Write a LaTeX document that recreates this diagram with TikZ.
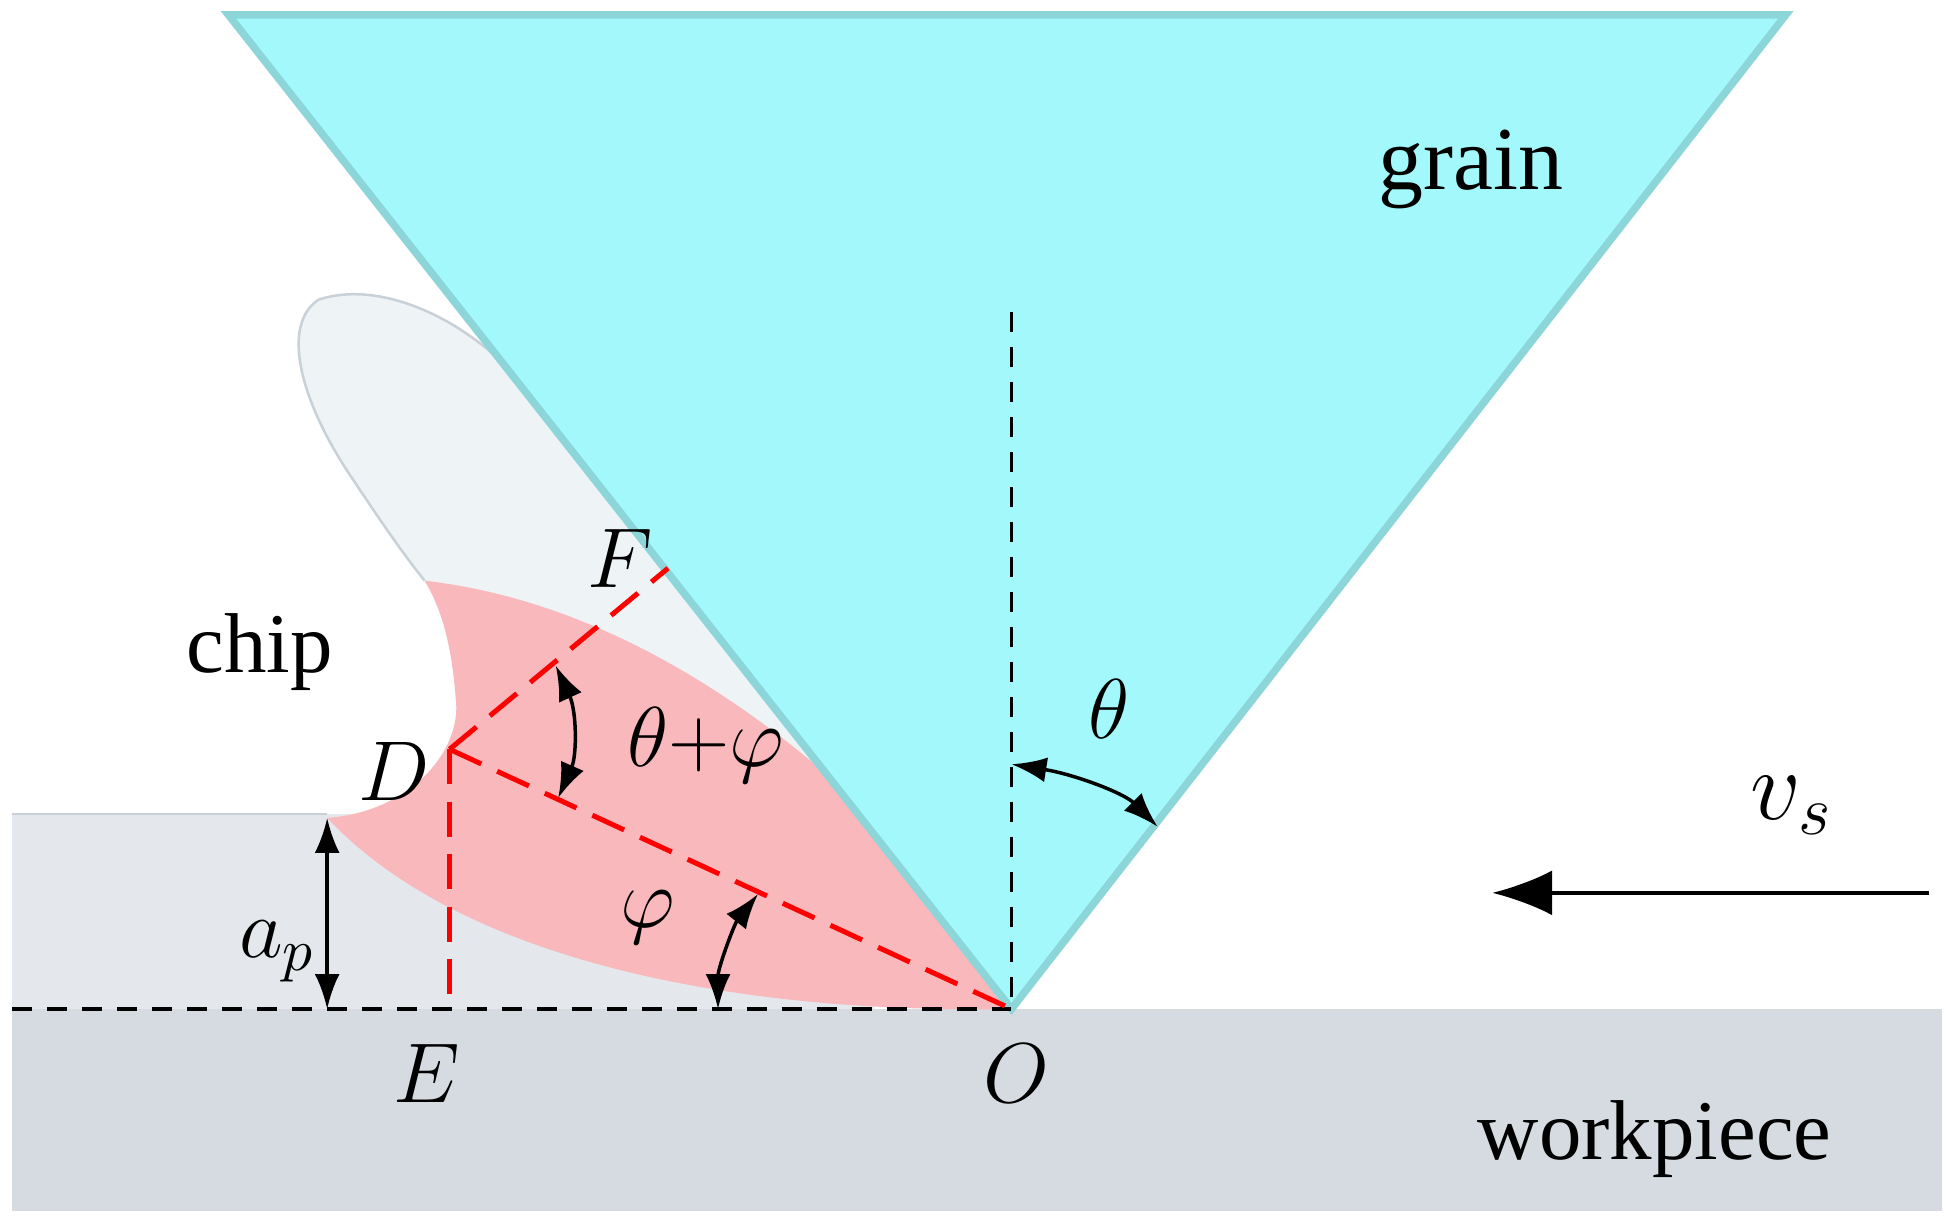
\documentclass[tikz,border=0pt]{standalone}
\usepackage{fix-cm}
\usepackage{fontspec}
\setmainfont{Liberation Serif}
\usetikzlibrary{arrows.meta}
\definecolor{cyanf}{HTML}{A2F8FA}
\definecolor{cyanb}{HTML}{8CD6DA}
\definecolor{wpd}{HTML}{D5DBE0}
\definecolor{wpl}{HTML}{E4E8EC}
\definecolor{chipg}{HTML}{EEF3F5}
\definecolor{chipb}{HTML}{C8D0D8}
\definecolor{pinkf}{HTML}{F8B8BC}
\begin{document}
\begin{tikzpicture}[x=0.25pt,y=-0.25pt,
  lab/.style={inner sep=0pt,font=\fontsize{17}{17}\selectfont},
  bd/.style={line width=0.7pt,dash pattern=on 4pt off 3pt},
  rd/.style={red,line width=1pt,dash pattern=on 7pt off 3.5pt},
  arr/.style={line width=0.7pt,{Latex[length=7pt,width=5pt]}-{Latex[length=7pt,width=5pt]}}]
\useasboundingbox[fill=white] (0,0) rectangle (1560,975);
% workpiece
\fill[wpd] (10,808) rectangle (1555,970);
\fill[wpl] (10,652) rectangle (700,808);
\draw[chipb,line width=0.4pt] (10,652) -- (262,652);
% chip gray
\fill[chipg] (402,290) .. controls (360,250) and (300,225) .. (255,240)
  .. controls (225,260) and (240,320) .. (280,380)
  .. controls (300,410) and (320,440) .. (340,465) -- (662,620) -- cycle;
\draw[chipb,line width=0.5pt] (402,290) .. controls (360,250) and (300,225) .. (255,240)
  .. controls (225,260) and (240,320) .. (280,380)
  .. controls (300,410) and (320,440) .. (340,465);
% pink
\fill[pinkf] (340,465) .. controls (470,480) and (580,550) .. (662,620)
  -- (810,808) .. controls (590,812) and (370,770) .. (262,655)
  .. controls (330,650) and (370,600) .. (365,560)
  .. controls (362,520) and (355,490) .. (340,465) -- cycle;
% grain
\draw[cyanb,fill=cyanf,line width=1.5pt,line join=miter] (183,12) -- (1430,12) -- (810,808) -- cycle;
% dashed lines
\coordinate (O) at (810,808);
\coordinate (D) at (360,600);
\coordinate (E) at (360,808);
\coordinate (Fp) at (535,455);
\draw[bd] (10,808) -- (O);
\draw[bd] (810,250) -- (O);
\draw[rd] (D) -- (O);
\draw[rd] (D) -- (E);
\draw[rd] (D) -- (Fp);
% arrows
\draw[arr] (262,655) -- (262,808);
\draw[arr] (445,533) .. controls (462,570) and (462,605) .. (447,639);
\draw[arr] (575,808) .. controls (575,775) and (588,740) .. (607,716);
\draw[arr] (810,612) .. controls (860,620) and (900,635) .. (927,662);
\draw[line width=0.7pt,-{Latex[length=12pt,width=9pt]}] (1545,715) -- (1195,715);
% labels
\node[lab,font=\fontsize{18}{18}\selectfont] (g) at (1178,136) {grain};
\node[lab] (c) at (208,522) {chip};
\node[lab] (w) at (1325,912) {workpiece};
\node[lab] (dl) at (316,618) {$D$};
\node[lab] (fl) at (497,447) {$F$};
\node[lab] (el) at (342,860) {$E$};
\node[lab] (ol) at (814,860) {$O$};
\node[lab] (ap) at (222,762) {$a_p$};
\node[lab] (tp) at (565,597) {$\theta{+}\varphi$};
\node[lab] (ph) at (519,735) {$\varphi$};
\node[lab] (th) at (888,568) {$\theta$};
\node[lab,font=\fontsize{20}{20}\selectfont] (vs) at (1435,645) {$v_s$};
\end{tikzpicture}
\end{document}
